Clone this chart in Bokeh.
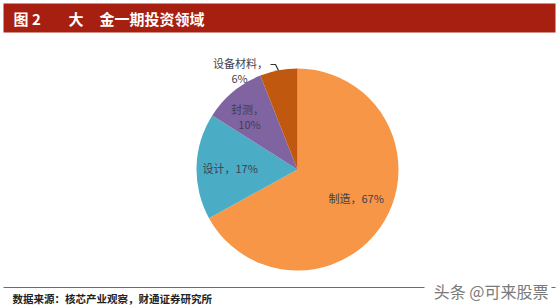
import numpy as np
from bokeh.plotting import figure
from bokeh.models import Range1d
from bokeh.core.properties import value
from bokeh.embed import file_html
from bokeh.resources import INLINE

# ---- data ----
categories = ["制造", "设计", "封测", "设备材料"]
shares = [67, 17, 10, 6]
title_parts = ["图 2", "大", "金一期投资领域"]
source_text = "数据来源：核芯产业观察，财通证券研究所"
watermark = "头条 @可来股票"

colors = ["#F79646", "#4BACC6", "#8064A2", "#C0580F"]

W, H = 558, 307
def Y(py):
    return H - py

p = figure(width=W, height=H, output_backend="svg", toolbar_location=None,
           x_range=Range1d(0, W), y_range=Range1d(0, H), min_border=0)
p.axis.visible = False
p.grid.visible = False
p.outline_line_color = None
p.background_fill_color = "white"
p.border_fill_color = "white"

FONT = value("Noto Sans CJK SC")

# header bar
p.quad(left=[3], right=[555], top=[Y(3)], bottom=[Y(32)], fill_color="#A61F10", line_color=None)
tx = [13, 68, 99]
p.text(x=tx, y=[Y(18)] * 3, text=title_parts, text_font=FONT, text_font_size="15px",
       text_font_style="bold", text_color="white", text_baseline="middle", text_align="left")

# pie
cx, cy, r = 297, Y(169), 101
total = float(sum(shares))
cum = np.cumsum([0] + shares) / total
starts = [np.pi / 2 - 2 * np.pi * cum[i] for i in range(len(shares))]
ends = [np.pi / 2 - 2 * np.pi * cum[i + 1] for i in range(len(shares))]
p.wedge(x=[cx] * len(shares), y=[cy] * len(shares), radius=r, start_angle=starts,
        end_angle=ends, direction="clock", fill_color=colors, line_color=None)

# labels
lab_color = "#3F3F4F"
fs = "11px"
# 制造
p.text(x=[328], y=[Y(197)], text=[f"{categories[0]}，{shares[0]}%"], text_font=FONT, text_font_size=fs,
       text_color=lab_color, text_baseline="middle", text_align="left")
# 设计
p.text(x=[202], y=[Y(167)], text=[f"{categories[1]}，{shares[1]}%"], text_font=FONT, text_font_size=fs,
       text_color=lab_color, text_baseline="middle", text_align="left")
# 封测
p.text(x=[247], y=[Y(108)], text=[f"{categories[2]}，"], text_font=FONT, text_font_size=fs,
       text_color=lab_color, text_baseline="middle", text_align="center")
p.text(x=[249], y=[Y(123)], text=[f"{shares[2]}%"], text_font=FONT, text_font_size=fs,
       text_color=lab_color, text_baseline="middle", text_align="center")
# 设备材料
p.text(x=[240], y=[Y(62)], text=[f"{categories[3]}，"], text_font=FONT, text_font_size=fs,
       text_color=lab_color, text_baseline="middle", text_align="center")
p.text(x=[239], y=[Y(77)], text=[f"{shares[3]}%"], text_font=FONT, text_font_size=fs,
       text_color=lab_color, text_baseline="middle", text_align="center")
p.line(x=[270, 275, 278], y=[Y(64), Y(64), Y(70)], line_color="#333333", line_width=1.2)

# bottom rule and source
p.line(x=[3, 555], y=[Y(287), Y(287)], line_color="#9C5A4C", line_width=1)
p.quad(left=[424], right=[551], top=[Y(280)], bottom=[Y(300)], fill_color="white", line_color=None)
p.text(x=[548], y=[Y(290)], text=[watermark], text_font=FONT, text_font_size="16px",
       text_color="#7A7A7A", text_baseline="middle", text_align="right")
p.text(x=[12], y=[Y(298)], text=[source_text], text_font=FONT, text_font_size="10.5px",
       text_font_style="bold", text_color="#222222", text_baseline="middle", text_align="left")

open("out.html", "w").write(file_html(p, INLINE))
